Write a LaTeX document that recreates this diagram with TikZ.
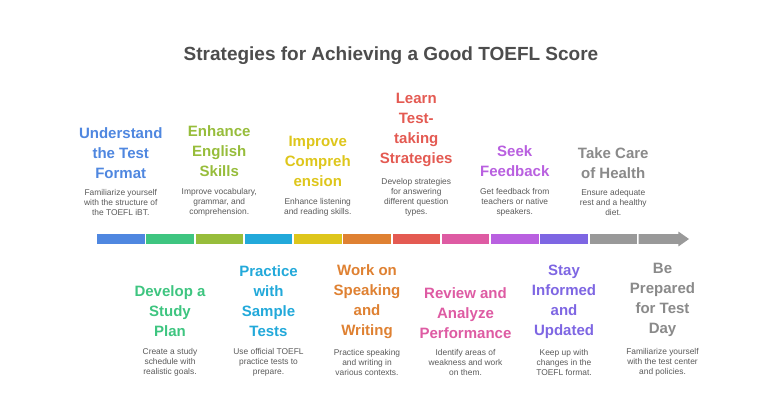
\documentclass[tikz,border=0pt]{standalone}
\usepackage{fontspec}
\setmainfont{Liberation Sans}
\usetikzlibrary{positioning}

\definecolor{cBlue}{HTML}{4F87E0}
\definecolor{cGreen}{HTML}{3EC580}
\definecolor{cOlive}{HTML}{97BD3B}
\definecolor{cCyan}{HTML}{22A9DA}
\definecolor{cYellow}{HTML}{DEC61B}
\definecolor{cOrange}{HTML}{DF8132}
\definecolor{cRed}{HTML}{E45A52}
\definecolor{cPink}{HTML}{DE5BA3}
\definecolor{cPurple}{HTML}{B960E0}
\definecolor{cIndigo}{HTML}{7E66E3}
\definecolor{cGray}{HTML}{999999}
\definecolor{titlegray}{HTML}{4D4D4D}
\definecolor{descgray}{HTML}{5A5A5A}

\begin{document}
\begin{tikzpicture}[x=1pt,y=1pt,
    seg/.style={inner sep=0pt, minimum width=47.5pt, minimum height=9.5pt},
    desc/.style={align=center, inner sep=0pt, text=descgray, font=\fontsize{8.4}{10}\selectfont},
    head/.style={align=center, inner sep=0pt, above=10.5pt of #1, font=\fontsize{15}{20}\selectfont\bfseries}]
  \useasboundingbox[fill=white] (0,0) rectangle (768,402);

  \node[font=\fontsize{19}{22}\selectfont\bfseries, text=titlegray] (title) at (391,346) {Strategies for Achieving a Good TOEFL Score};

  % timeline bar
  \foreach \i/\c in {1/cBlue,2/cGreen,3/cOlive,4/cCyan,5/cYellow,6/cOrange,7/cRed,8/cPink,9/cPurple,10/cIndigo,11/cGray}
    \node[seg, fill=\c] (s\i) at ({97+49.25*(\i-1)+23.75},163) {};
  \node[seg] (s12) at ({97+49.25*11+23.75},163) {};
  \coordinate (tip) at (689,163);
  \fill[cGray] (s12.north west) -- ([xshift=-8pt]s12.north east) -- ++(0,2.5) -- (tip)
    -- ([xshift=-8pt,yshift=-2.5pt]s12.south east) -- ++(0,2.5) -- (s12.south west) -- cycle;

  \coordinate (topline) at (0,186);
  \coordinate (botline) at (0,26);

  % top row
  \node[desc, anchor=south] (d1) at (s1 |- topline) {Familiarize yourself\\with the structure of\\the TOEFL iBT.};
  \node[head=d1, text=cBlue] (h1) {Understand\\the Test\\Format};
  \node[desc, anchor=south] (d3) at (s3 |- topline) {Improve vocabulary,\\grammar, and\\comprehension.};
  \node[head=d3, text=cOlive] (h3) {Enhance\\English\\Skills};
  \node[desc, anchor=south] (d5) at (s5 |- topline) {Enhance listening\\and reading skills.};
  \node[head=d5, text=cYellow] (h5) {Improve\\Compreh\\ension};
  \node[desc, anchor=south] (d7) at (s7 |- topline) {Develop strategies\\for answering\\different question\\types.};
  \node[head=d7, text=cRed] (h7) {Learn\\Test-\\taking\\Strategies};
  \node[desc, anchor=south] (d9) at (s9 |- topline) {Get feedback from\\teachers or native\\speakers.};
  \node[head=d9, text=cPurple] (h9) {Seek\\Feedback};
  \node[desc, anchor=south] (d11) at (s11 |- topline) {Ensure adequate\\rest and a healthy\\diet.};
  \node[head=d11, text=cGray!90!black] (h11) {Take Care\\of Health};

  % bottom row
  \node[desc, anchor=south] (d2) at (s2 |- botline) {Create a study\\schedule with\\realistic goals.};
  \node[head=d2, text=cGreen] (h2) {Develop a\\Study\\Plan};
  \node[desc, anchor=south] (d4) at (s4 |- botline) {Use official TOEFL\\practice tests to\\prepare.};
  \node[head=d4, text=cCyan] (h4) {Practice\\with\\Sample\\Tests};
  \node[desc, anchor=south] (d6) at (s6 |- botline) {Practice speaking\\and writing in\\various contexts.};
  \node[head=d6, text=cOrange] (h6) {Work on\\Speaking\\and\\Writing};
  \node[desc, anchor=south] (d8) at (s8 |- botline) {Identify areas of\\weakness and work\\on them.};
  \node[head=d8, text=cPink] (h8) {Review and\\Analyze\\Performance};
  \node[desc, anchor=south] (d10) at (s10 |- botline) {Keep up with\\changes in the\\TOEFL format.};
  \node[head=d10, text=cIndigo] (h10) {Stay\\Informed\\and\\Updated};
  \node[desc, anchor=south] (d12) at (s12 |- botline) {Familiarize yourself\\with the test center\\and policies.};
  \node[head=d12, text=cGray!90!black] (h12) {Be\\Prepared\\for Test\\Day};
\end{tikzpicture}
\end{document}
